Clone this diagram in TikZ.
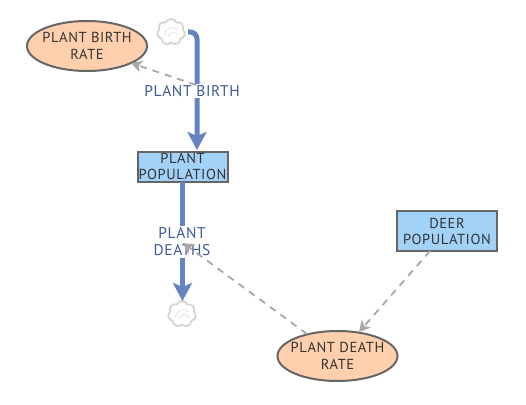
\documentclass[tikz,border=0pt]{standalone}
\usepackage{fontspec}
\setmainfont[LetterSpace=4]{PT Sans}
\usetikzlibrary{arrows.meta,shapes.geometric,shapes.symbols}
\definecolor{flowc}{HTML}{6483C0}
\definecolor{labc}{HTML}{3F5A9A}
\definecolor{edgec}{HTML}{666666}
\definecolor{dashc}{HTML}{A8A8A8}
\definecolor{stockc}{HTML}{A3D2F8}
\definecolor{auxc}{HTML}{FFCFAE}
\tikzset{
  auxnode/.style={ellipse,draw=edgec,fill=auxc,line width=2pt,minimum width=120pt,minimum height=50pt,inner xsep=-9pt,inner ysep=0pt,align=center,font=\fontsize{14.5}{16.5}\selectfont,text=black!80},
  stocknode/.style={rectangle,draw=edgec,fill=stockc,line width=2pt,inner sep=0pt,align=center,font=\fontsize{14.5}{16}\selectfont,text=black!80},
  flowlabel/.style={fill=white,inner sep=1.5pt,align=center,font=\fontsize{15.5}{17}\selectfont,text=labc},
  cloudnode/.style={cloud,cloud puffs=7,cloud puff arc=130,aspect=1.15,draw=black!17,fill=white,line width=1.8pt,inner sep=0pt,minimum width=28pt,minimum height=26pt},
  cloudmark/.style={draw=black!10,line width=0.9pt},
  flowline/.style={draw=flowc,line width=5pt,-{Stealth[length=18pt,width=19pt,inset=4pt]}},
  dashlink/.style={draw=dashc,line width=1.8pt,dash pattern=on 7pt off 6pt,-{Stealth[length=11pt,width=12pt,inset=3pt,fill=dashc]}}
}
\begin{document}
\begin{tikzpicture}[x=1pt,y=-1pt]
\useasboundingbox (0,0) rectangle (526,404);
\node[auxnode] (birthrate) at (87,46) {PLANT BIRTH\\RATE};
\node[auxnode] (deathrate) at (337.5,356) {PLANT DEATH\\RATE};
\node[stocknode,minimum width=90pt,minimum height=30pt] (plant) at (182.5,166.5) {PLANT\\POPULATION};
\node[stocknode,minimum width=100pt,minimum height=40pt] (deer) at (447,231) {DEER\\POPULATION};
\node[cloudnode] (src) at (171,32) {};
\node[cloudnode] (snk) at (182,314) {};
\foreach \c in {src,snk}{
  \draw[cloudmark] ([shift={(-7,3)}]\c.center) .. controls ([shift={(-4,-5)}]\c.center) and ([shift={(2,-6)}]\c.center) .. ([shift={(7,-2)}]\c.center);
  \draw[cloudmark] ([shift={(-3,5)}]\c.center) .. controls ([shift={(-1,-1)}]\c.center) and ([shift={(4,-1)}]\c.center) .. ([shift={(7,4)}]\c.center);
}
\coordinate (birthstart) at (188,32);
\coordinate (birthin) at (197,150);
\coordinate (deathout) at (182.5,182);
\coordinate (deathend) at (182.5,301);
\draw[flowline,rounded corners=7pt] (birthstart) -- (197,32) -- (birthin);
\draw[flowline] (deathout) -- (deathend);
\node[flowlabel] (birthlabel) at (192,91) {PLANT BIRTH};
\node[flowlabel] (deathlabel) at (182,242) {PLANT\\DEATHS};
\coordinate (birthtail) at (196,85);
\coordinate (birthhead) at (131,63);
\coordinate (deathhead) at (183,243);
\coordinate (deathtail) at (307,334);
\coordinate (deertail) at (430,251);
\coordinate (deerhead) at (359,332);
\draw[dashlink] (birthtail) -- (birthhead);
\draw[dashlink] (deathtail) -- (deathhead);
\draw[dashlink] (deertail) -- (deerhead);
\end{tikzpicture}
\end{document}
